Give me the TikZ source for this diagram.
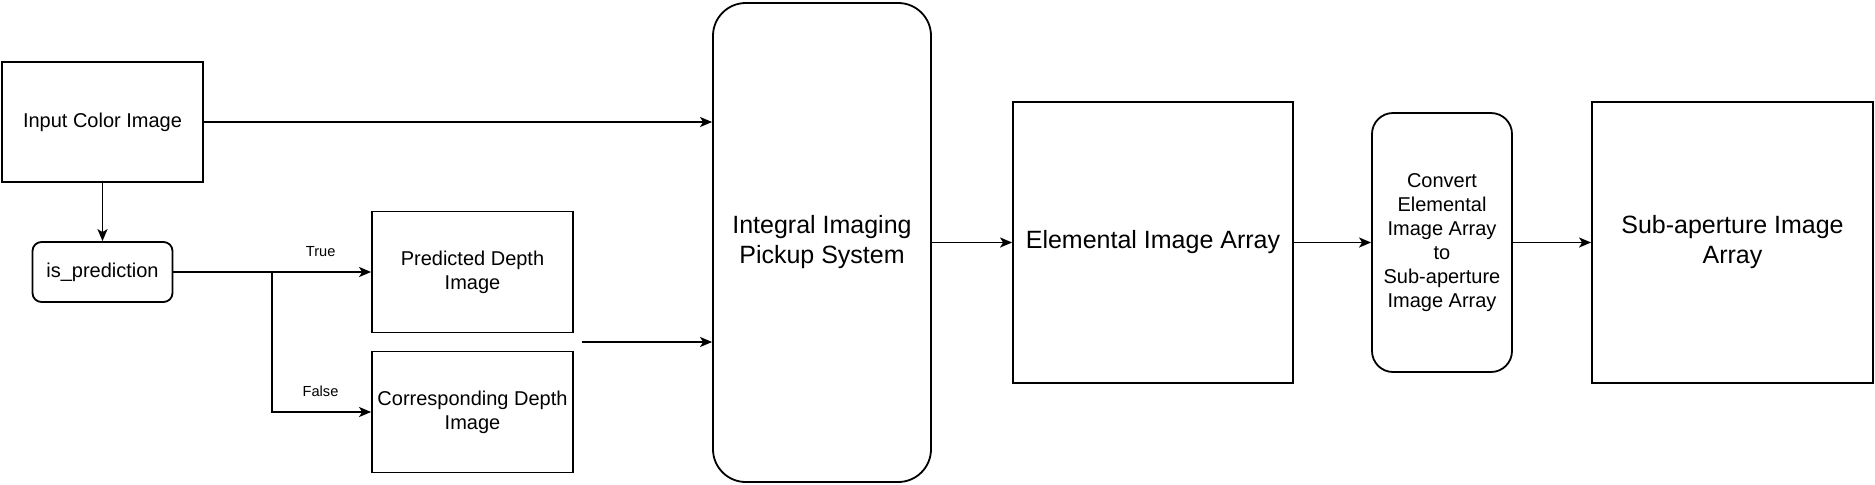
\documentclass[tikz,border=0pt]{standalone}
\usepackage{fontspec}
\setmainfont{Liberation Sans}
\usetikzlibrary{
    arrows.meta,
    calc,
    positioning
}

\begin{document}
\begin{tikzpicture}[x=0.5pt, y=-0.5pt,
                        box/.style={draw, line width=0.9pt, align=center, inner sep=0pt,
                            font=\fontsize{10}{12}\selectfont},
                        rbox/.style={box, rounded corners=#1},
                        big/.style={font=\fontsize{12.5}{15}\selectfont},
                        lbl/.style={font=\fontsize{7.3}{9}\selectfont, inner sep=1pt},
                        arr/.style={line width=0.9pt, -{Stealth[length=6pt, width=5pt, inset=1.5pt]}}]
                        \useasboundingbox (0, 0) rectangle (1875, 484);

                        \node[box, minimum width=100.5pt, minimum height=60pt] (input) at (102.5, 122) {Input Color Image};
                        \node[rbox=4.5pt, minimum width=70pt, minimum height=30pt] (ispred) at (102.5, 272) {is\_prediction};
                        \node[box, minimum width=100.5pt, minimum height=60.5pt] (pred) at (472.5, 272) {Predicted Depth\\Image};
                        \node[box, minimum width=100.5pt, minimum height=60.5pt] (corr) at (472.5, 412) {Corresponding Depth\\Image};

                        \node[rbox=16.4pt, big, minimum width=109pt, minimum height=239.5pt] (integral) at (822, 242.5) {Integral Imaging\\Pickup System};
                        \node[box, big, minimum width=140pt, minimum height=140.5pt] (elemental) at (1153, 242.5) {Elemental Image Array};
                        \node[rbox=10.5pt, minimum width=70pt, minimum height=129.5pt] (convert) at (1442, 242.5) {Convert\\Elemental\\Image Array\\to\\Sub-aperture\\Image Array};
                        \node[box, big, minimum width=140.5pt, minimum height=140.5pt] (subap) at (1732.5, 242.5) {Sub-aperture Image\\Array};

                        \coordinate (split) at (272, 272);
                        \coordinate (merge) at (582, 342);

                        \draw[arr] (input.south) -- (ispred.north);
                        \draw[arr] (input.east) -- (input.east -| integral.west);
                        \draw[arr] (ispred.east) -- node[lbl, pos=0.745, above=6pt] {True} (pred.west);
                        \draw[arr] (split) |- node[lbl, pos=0.745, above=6pt] {False} (corr.west);
                        \draw[arr] (merge) -- (merge -| integral.west);

                        \draw[arr] (integral.east) -- (elemental.west);
                        \draw[arr] (elemental.east) -- (convert.west);
                        \draw[arr] (convert.east) -- (subap.west);
                    \end{tikzpicture}
\end{document}
